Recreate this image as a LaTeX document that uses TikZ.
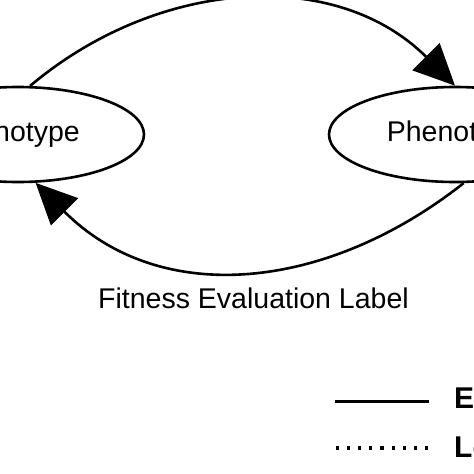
\documentclass[tikz,border=0pt]{standalone}
\usepackage{fontspec}
\setmainfont{Liberation Sans}
\usetikzlibrary{arrows.meta,shapes.geometric}
\begin{document}
\begin{tikzpicture}[x=1pt,y=-1pt,
  stateshape/.style={draw,line width=2.6pt,ellipse,minimum width=252pt,minimum height=95pt,inner sep=0pt,font=\fontsize{28.5}{34}\selectfont},
  flow/.style={line width=2.6pt,-{Triangle[length=41pt,width=38pt]}},
  lbl/.style={font=\fontsize{28.5}{34}\selectfont,inner sep=0pt},
  legtext/.style={font=\fontsize{30}{36}\selectfont\bfseries,inner sep=0pt,anchor=base west}]
\useasboundingbox (0,0) rectangle (474,474);
\node[stateshape] (geno) at (18,134.5) {Genotype};
\node[stateshape] (pheno) at (455,134.5) {Phenotype};
\draw[flow] (geno.76) .. controls +(128,-108) and +(-119,-119) .. (pheno.north);
\draw[flow] (pheno.-80) .. controls +(-137,108) and +(125,125) .. (geno.-70);
\node[lbl,anchor=base] (fit) at (253.5,308) {Fitness Evaluation Label};
\coordinate (s1) at (335,401);
\coordinate (s2) at (429,401);
\coordinate (d1) at (335.5,448);
\coordinate (d2) at (429,448);
\draw[line width=3pt] (s1) -- (s2);
\draw[line width=3.2pt,dash pattern=on 3.2pt off 8pt] (d1) -- (d2);
\node[legtext] (evo) at (454,408) {Evolution};
\node[legtext] (lea) at (454,457) {Learning};
\end{tikzpicture}
\end{document}
